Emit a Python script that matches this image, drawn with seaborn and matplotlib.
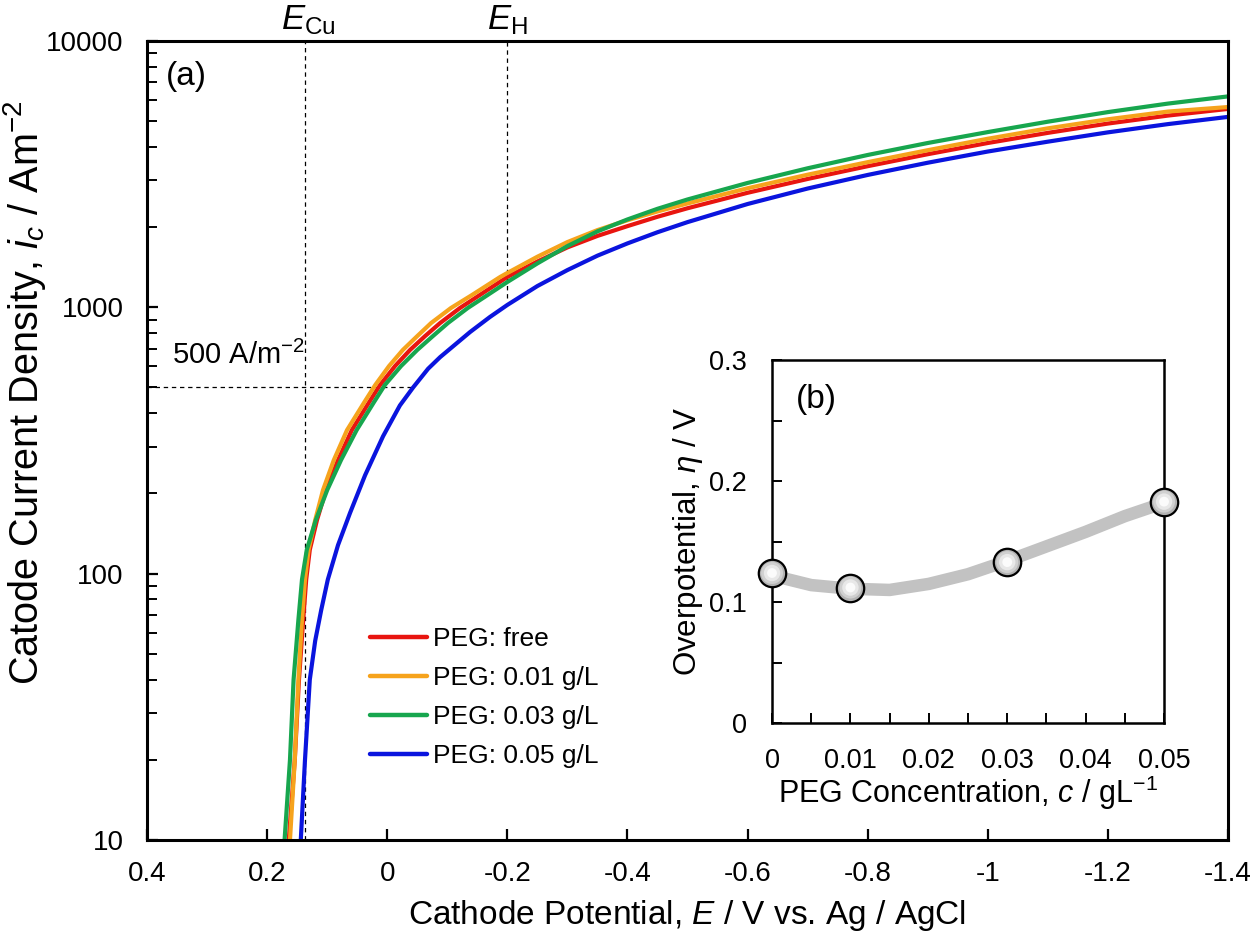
import numpy as np
import pandas as pd
import seaborn as sns
import matplotlib.pyplot as plt
import matplotlib.ticker as mticker

#------------------------------------------------------------------------------#
# (a) cathodic polarisation curves
#     E in V vs. Ag/AgCl, i in A/m2
#------------------------------------------------------------------------------#
labels = ['PEG: free', 'PEG: 0.01 g/L', 'PEG: 0.03 g/L', 'PEG: 0.05 g/L']
colors = ['#e8150f', '#f6a31c', '#17a64e', '#0a14de']

# common potentials of the high-current part
E_high = [-0.25, -0.3, -0.35, -0.4, -0.45, -0.5, -0.6, -0.7, -0.8, -0.9, -1.0,
          -1.1, -1.2, -1.3, -1.4]

E_free = [0.164, 0.154, 0.147, 0.140, 0.135, 0.129, 0.117, 0.102, 0.082,
          0.059, 0.030, 0.012, -0.013, -0.038, -0.063, -0.088, -0.121, -0.154,
          -0.2] + E_high
i_free = [10, 20, 40, 67, 95, 123, 159, 206, 267, 346, 441, 511, 602, 692, 780,
          873, 994, 1112, 1300,
          1486, 1679, 1854, 2018, 2188, 2355, 2692, 3034, 3388, 3758, 4140,
          4519, 4898, 5248, 5559]

E_001 = [0.162, 0.154, 0.148, 0.142, 0.137, 0.131, 0.120, 0.107, 0.089,
         0.067, 0.038, 0.020, -0.003, -0.026, -0.050, -0.073, -0.106, -0.141,
         -0.188, -0.2] + E_high
i_001 = [10, 20, 40, 67, 95, 123, 159, 206, 267, 346, 441, 511, 602, 692, 780,
         873, 994, 1112, 1300, 1346,
         1549, 1758, 1950, 2123, 2291, 2455, 2799, 3148, 3508, 3890, 4295,
         4699, 5082, 5433, 5650]

E_003 = [0.171, 0.162, 0.156, 0.148, 0.142, 0.134, 0.119, 0.100, 0.077,
         0.051, 0.022, 0.004, -0.023, -0.050, -0.076, -0.101, -0.134, -0.167,
         -0.2] + E_high
i_003 = [10, 20, 40, 67, 95, 123, 159, 206, 267, 346, 441, 511, 602, 692, 780,
         873, 994, 1112, 1245,
         1462, 1698, 1928, 2138, 2344, 2541, 2931, 3327, 3733, 4140, 4550,
         4977, 5408, 5821, 6194]

E_005 = [0.144, 0.137, 0.129, 0.120, 0.110, 0.099, 0.082, 0.062, 0.037,
         0.007, -0.021, -0.043, -0.068, -0.088, -0.138, -0.171, -0.2] + E_high
i_005 = [10, 20, 40, 56, 73, 95, 128, 169, 234, 328, 428, 500, 588, 650, 808,
         920, 1021,
         1202, 1380, 1563, 1738, 1914, 2089, 2443, 2793, 3141, 3491, 3846,
         4188, 4539, 4875, 5188]

# reference markers
E_cu      = 0.137
E_h       = -0.2
i_h_end   = 1080
i_ref     = 500
E_ref_end = -0.043

#------------------------------------------------------------------------------#
# (b) overpotential vs PEG concentration
#------------------------------------------------------------------------------#
peg_c = [0, 0.01, 0.03, 0.05]
eta   = [0.124, 0.112, 0.133, 0.183]

trend_c   = [0, 0.005, 0.01, 0.015, 0.02, 0.025, 0.03, 0.035, 0.04, 0.045, 0.05]
trend_eta = [0.122, 0.114, 0.111, 0.110, 0.115, 0.123, 0.134, 0.146, 0.158,
             0.171, 0.182]

#------------------------------------------------------------------------------#

def fmt(v, pos=None):
    return '%g' % round(v, 3)

def main():

    sns.set_style('ticks')
    plt.rcParams['font.family'] = ['Liberation Sans', 'DejaVu Sans']
    plt.rcParams['mathtext.fontset'] = 'custom'
    plt.rcParams['mathtext.rm'] = 'Liberation Sans'
    plt.rcParams['mathtext.it'] = 'Liberation Sans:italic'
    plt.rcParams['axes.unicode_minus'] = False
    for key in ['axes.edgecolor', 'xtick.color', 'ytick.color',
                'text.color', 'axes.labelcolor']:
        plt.rcParams[key] = 'black'

    # long-form table of all curves
    frames = []
    for lab, E, i in zip(labels, [E_free, E_001, E_003, E_005],
                         [i_free, i_001, i_003, i_005]):
        frames.append(pd.DataFrame({'E': E, 'i': i, 'PEG': lab}))
    DF = pd.concat(frames, ignore_index=True)

    fig = plt.figure(figsize=(12.59, 9.49), dpi=100)
    ax = fig.add_axes([0.1168, 0.1149, 0.8586, 0.8419])

    sns.lineplot(data=DF, x='E', y='i', hue='PEG', hue_order=labels,
                 palette=colors, sort=False, estimator=None, lw=3, ax=ax)

    ax.set_yscale('log')
    ax.set_xlim(0.4, -1.4)
    ax.set_ylim(10, 10000)

    # reference lines
    dash = (0, (3.5, 3))
    ax.axvline(E_cu, color='black', lw=0.9, ls=dash, zorder=1)
    ax.plot([E_h, E_h], [i_h_end, 10000], color='black', lw=0.9, ls=dash,
            zorder=1)
    ax.plot([0.4, E_ref_end], [i_ref, i_ref], color='black', lw=0.9, ls=dash,
            zorder=1)

    ax.set_xticks(np.round(np.arange(0.4, -1.41, -0.2), 1))
    ax.xaxis.set_major_formatter(mticker.FuncFormatter(fmt))
    ax.set_yticks([10, 100, 1000, 10000])
    ax.set_yticklabels(['10', '100', '1000', '10000'])
    ax.yaxis.set_minor_locator(mticker.LogLocator(base=10,
                               subs=np.arange(2, 10), numticks=20))
    ax.yaxis.set_minor_formatter(mticker.NullFormatter())

    ax.tick_params(axis='both', which='major', direction='in', length=8,
                   width=1.6, top=False, right=False)
    ax.tick_params(axis='x', which='major', pad=15, labelsize=20)
    ax.tick_params(axis='y', which='major', pad=17, labelsize=20)
    ax.tick_params(axis='y', which='minor', direction='in', length=7,
                   width=1.4, right=False)
    ax.tick_params(axis='x', which='minor', bottom=False, top=False)
    for s in ax.spines.values():
        s.set_linewidth(2.2)

    ax.set_xlabel('Cathode Potential, $E$ / V vs. Ag / AgCl', fontsize=24)
    ax.set_ylabel('Catode Current Density, $i_c$ / Am$^{-2}$', fontsize=28.5)
    ax.xaxis.set_label_coords(0.5, -0.073)
    ax.yaxis.set_label_coords(-0.092, 0.56)

    ax.text(0.017, 0.955, '(a)', transform=ax.transAxes, fontsize=24,
            va='center', ha='left')
    ax.text(0.358, 662, '500 A/m$^{-2}$', fontsize=21, va='center', ha='left')
    trans = ax.get_xaxis_transform()
    ax.text(E_cu - 0.006, 1.005, r'$E_{\mathrm{Cu}}$', transform=trans,
            fontsize=25, ha='center', va='bottom')
    ax.text(E_h, 1.005, r'$E_{\mathrm{H}}$', transform=trans, fontsize=25,
            ha='center', va='bottom')

    leg = ax.legend(loc='upper left', bbox_to_anchor=(0.2063, 0.266),
                    frameon=False, fontsize=19, handlelength=2.15,
                    handletextpad=0.25, labelspacing=0.56, borderaxespad=0,
                    borderpad=0)
    for line in leg.get_lines():
        line.set_linewidth(3.2)

    # inset (b)
    axin = fig.add_axes([0.6132, 0.2381, 0.3114, 0.3825])
    sns.lineplot(x=trend_c, y=trend_eta, color='#c2c2c2', lw=9, ax=axin,
                 zorder=2)
    layers = [(390, '#b3b3b3', 1.6), (250, '#d0d0d0', 0), (140, '#e8e8e8', 0),
              (50, '#fbfbfb', 0)]
    for size, col, lw in layers:
        sns.scatterplot(x=peg_c, y=eta, s=size, color=col,
                        edgecolor='black' if lw else 'none', linewidth=lw,
                        ax=axin, zorder=4, clip_on=False)

    axin.set_xlim(0, 0.05)
    axin.set_ylim(0, 0.3)
    axin.set_xticks([0, 0.01, 0.02, 0.03, 0.04, 0.05])
    axin.xaxis.set_major_formatter(mticker.FuncFormatter(fmt))
    axin.xaxis.set_minor_locator(mticker.MultipleLocator(0.005))
    axin.set_yticks([0, 0.1, 0.2, 0.3])
    axin.yaxis.set_major_formatter(mticker.FuncFormatter(fmt))
    axin.yaxis.set_minor_locator(mticker.MultipleLocator(0.05))
    axin.tick_params(which='both', direction='in', length=7, width=1.4,
                     top=False, right=False, labelsize=19.5)
    axin.tick_params(axis='x', which='major', pad=18)
    axin.tick_params(axis='y', which='major', pad=18)
    for s in axin.spines.values():
        s.set_linewidth(1.8)

    axin.set_xlabel('PEG Concentration, $c$ / gL$^{-1}$', fontsize=22)
    axin.set_ylabel(r'Overpotential, $\eta$ / V', fontsize=22.5)
    axin.xaxis.set_label_coords(0.5, -0.14)
    axin.yaxis.set_label_coords(-0.17, 0.5)
    axin.text(0.06, 0.89, '(b)', transform=axin.transAxes, fontsize=24,
              va='center', ha='left')

    plt.savefig('out.png', dpi=100)

if __name__ == '__main__':
    main()
